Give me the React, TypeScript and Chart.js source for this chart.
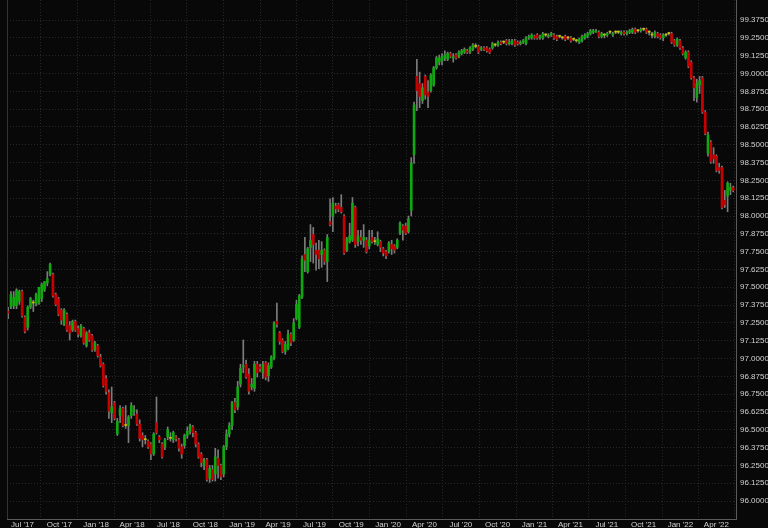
import React, { useEffect, useRef } from "react";
import { Chart, registerables } from "chart.js";

Chart.register(...registerables);

// Weekly bars, first bar dated this Friday
const startDate = "2017-05-26";

const openP = [
  97.33, 97.36, 97.37, 97.37, 97.40, 97.47, 97.29, 97.22, 97.36, 97.39,
  97.38, 97.39, 97.42, 97.48, 97.53, 97.59, 97.59, 97.45, 97.42, 97.34,
  97.24, 97.31, 97.23, 97.20, 97.26, 97.21, 97.16, 97.21, 97.09, 97.18,
  97.16, 97.06, 97.09, 97.01, 96.96, 96.86, 96.76, 96.62, 96.69, 96.47,
  96.60, 96.65, 96.53, 96.53, 96.60, 96.63, 96.61, 96.54, 96.46, 96.43,
  96.42, 96.40, 96.33, 96.55, 96.45, 96.40, 96.38, 96.45, 96.44, 96.43,
  96.45, 96.43, 96.38, 96.39, 96.46, 96.49, 96.52, 96.48, 96.40, 96.33,
  96.25, 96.29, 96.16, 96.22, 96.19, 96.30, 96.25, 96.19, 96.38, 96.47,
  96.53, 96.69, 96.66, 96.82, 96.94, 96.96, 96.89, 96.80, 96.79, 96.96,
  96.94, 96.90, 96.97, 96.88, 96.94, 97.00, 97.26, 97.18, 97.13, 97.05,
  97.07, 97.17, 97.13, 97.28, 97.22, 97.43, 97.73, 97.61, 97.78, 97.87,
  97.76, 97.76, 97.73, 97.76, 97.68, 97.96, 98.00, 98.07, 98.08, 98.06,
  98.00, 97.76, 97.82, 97.83, 98.06, 97.82, 97.85, 97.83, 97.83, 97.79,
  97.85, 97.82, 97.80, 97.82, 97.77, 97.75, 97.75, 97.80, 97.79, 97.78,
  97.88, 97.93, 97.93, 97.89, 98.04, 98.43, 98.98, 98.93, 98.81, 98.98,
  98.87, 98.88, 98.92, 99.04, 99.08, 99.09, 99.11, 99.10, 99.14, 99.11,
  99.13, 99.12, 99.14, 99.15, 99.16, 99.15, 99.17, 99.19, 99.19, 99.17,
  99.18, 99.18, 99.17, 99.18, 99.20, 99.20, 99.22, 99.22, 99.23, 99.21,
  99.21, 99.23, 99.22, 99.21, 99.22, 99.21, 99.25, 99.25, 99.26, 99.27,
  99.25, 99.25, 99.27, 99.26, 99.27, 99.27, 99.26, 99.26, 99.25, 99.26,
  99.25, 99.25, 99.24, 99.23, 99.22, 99.23, 99.25, 99.26, 99.28, 99.29,
  99.29, 99.29, 99.26, 99.27, 99.27, 99.29, 99.27, 99.29, 99.29, 99.28,
  99.29, 99.28, 99.29, 99.29, 99.31, 99.30, 99.30, 99.31, 99.31, 99.29,
  99.27, 99.26, 99.28, 99.27, 99.25, 99.27, 99.28, 99.28, 99.23, 99.20,
  99.23, 99.18, 99.11, 99.15, 99.08, 98.97, 98.83, 98.92, 98.97, 98.73,
  98.44, 98.52, 98.43, 98.42, 98.34, 98.34, 98.11, 98.14, 98.18, 98.20,
];

const highP = [
  97.36, 97.47, 97.47, 97.49, 97.48, 97.48, 97.30, 97.37, 97.43, 97.41,
  97.46, 97.50, 97.53, 97.54, 97.61, 97.67, 97.60, 97.46, 97.43, 97.35,
  97.35, 97.32, 97.26, 97.27, 97.27, 97.23, 97.24, 97.22, 97.19, 97.20,
  97.17, 97.12, 97.10, 97.03, 96.97, 96.88, 96.78, 96.80, 96.70, 96.58,
  96.67, 96.66, 96.67, 96.60, 96.69, 96.67, 96.64, 96.57, 96.48, 96.46,
  96.43, 96.41, 96.48, 96.73, 96.46, 96.41, 96.44, 96.52, 96.48, 96.49,
  96.46, 96.44, 96.40, 96.47, 96.52, 96.54, 96.53, 96.49, 96.41, 96.34,
  96.30, 96.30, 96.25, 96.25, 96.37, 96.36, 96.26, 96.39, 96.50, 96.55,
  96.70, 96.72, 96.84, 96.96, 97.13, 96.99, 96.93, 96.86, 96.98, 96.98,
  96.96, 96.98, 96.98, 96.97, 97.02, 97.26, 97.39, 97.19, 97.14, 97.12,
  97.20, 97.18, 97.28, 97.41, 97.45, 97.72, 97.85, 97.78, 97.94, 97.92,
  97.81, 97.83, 97.82, 97.77, 97.87, 98.12, 98.13, 98.09, 98.09, 98.15,
  98.01, 97.85, 97.95, 98.13, 98.07, 97.90, 97.90, 97.94, 97.85, 97.90,
  97.90, 97.85, 97.89, 97.83, 97.78, 97.76, 97.82, 97.83, 97.80, 97.84,
  97.96, 97.94, 97.95, 98.00, 98.41, 98.80, 99.10, 99.01, 98.93, 98.99,
  98.95, 99.00, 99.05, 99.12, 99.13, 99.14, 99.16, 99.15, 99.15, 99.14,
  99.14, 99.16, 99.17, 99.18, 99.17, 99.19, 99.21, 99.21, 99.20, 99.19,
  99.19, 99.19, 99.18, 99.22, 99.21, 99.23, 99.23, 99.23, 99.24, 99.24,
  99.24, 99.24, 99.23, 99.23, 99.24, 99.26, 99.27, 99.28, 99.27, 99.28,
  99.27, 99.29, 99.28, 99.28, 99.29, 99.28, 99.27, 99.27, 99.26, 99.27,
  99.26, 99.26, 99.25, 99.24, 99.25, 99.27, 99.28, 99.29, 99.31, 99.31,
  99.31, 99.30, 99.29, 99.28, 99.29, 99.30, 99.29, 99.30, 99.30, 99.30,
  99.30, 99.30, 99.31, 99.32, 99.32, 99.31, 99.32, 99.32, 99.32, 99.30,
  99.29, 99.30, 99.29, 99.28, 99.28, 99.28, 99.29, 99.29, 99.24, 99.25,
  99.24, 99.19, 99.16, 99.16, 99.09, 98.98, 98.96, 98.98, 98.98, 98.74,
  98.59, 98.53, 98.48, 98.43, 98.37, 98.35, 98.18, 98.24, 98.23, 98.21,
];

const lowP = [
  97.28, 97.35, 97.35, 97.35, 97.38, 97.29, 97.18, 97.20, 97.35, 97.33,
  97.37, 97.38, 97.40, 97.47, 97.51, 97.58, 97.43, 97.37, 97.30, 97.24,
  97.23, 97.19, 97.13, 97.19, 97.19, 97.15, 97.15, 97.10, 97.08, 97.12,
  97.05, 97.05, 97.01, 96.94, 96.80, 96.75, 96.58, 96.55, 96.57, 96.46,
  96.55, 96.52, 96.51, 96.41, 96.58, 96.60, 96.53, 96.42, 96.38, 96.40,
  96.37, 96.29, 96.32, 96.47, 96.41, 96.30, 96.36, 96.43, 96.42, 96.41,
  96.42, 96.35, 96.30, 96.37, 96.44, 96.47, 96.45, 96.38, 96.30, 96.24,
  96.22, 96.14, 96.13, 96.14, 96.14, 96.16, 96.15, 96.17, 96.36, 96.45,
  96.50, 96.62, 96.64, 96.80, 96.90, 96.86, 96.75, 96.78, 96.77, 96.87,
  96.91, 96.86, 96.85, 96.84, 96.93, 96.99, 97.22, 97.10, 97.04, 97.03,
  97.06, 97.09, 97.12, 97.27, 97.21, 97.42, 97.61, 97.60, 97.68, 97.67,
  97.62, 97.63, 97.64, 97.66, 97.54, 97.93, 97.89, 98.02, 98.03, 98.02,
  97.73, 97.75, 97.81, 97.82, 97.78, 97.79, 97.80, 97.78, 97.74, 97.77,
  97.81, 97.80, 97.79, 97.75, 97.72, 97.70, 97.74, 97.73, 97.74, 97.77,
  97.87, 97.83, 97.87, 97.88, 98.00, 98.37, 98.74, 98.76, 98.79, 98.82,
  98.76, 98.87, 98.91, 99.03, 99.06, 99.06, 99.09, 99.09, 99.11, 99.08,
  99.10, 99.11, 99.13, 99.14, 99.14, 99.14, 99.16, 99.18, 99.14, 99.16,
  99.16, 99.15, 99.14, 99.17, 99.19, 99.19, 99.20, 99.21, 99.20, 99.20,
  99.20, 99.19, 99.20, 99.20, 99.21, 99.20, 99.24, 99.24, 99.24, 99.24,
  99.24, 99.24, 99.26, 99.25, 99.26, 99.24, 99.23, 99.25, 99.24, 99.23,
  99.24, 99.22, 99.23, 99.22, 99.21, 99.22, 99.24, 99.25, 99.27, 99.28,
  99.29, 99.25, 99.25, 99.25, 99.26, 99.28, 99.26, 99.28, 99.28, 99.27,
  99.27, 99.27, 99.28, 99.28, 99.28, 99.29, 99.29, 99.30, 99.28, 99.27,
  99.25, 99.25, 99.25, 99.24, 99.23, 99.26, 99.27, 99.21, 99.19, 99.19,
  99.17, 99.13, 99.10, 99.04, 98.96, 98.81, 98.80, 98.86, 98.72, 98.57,
  98.42, 98.37, 98.37, 98.31, 98.30, 98.05, 98.06, 98.03, 98.15, 98.17,
];

const closeP = [
  97.32, 97.45, 97.43, 97.48, 97.47, 97.30, 97.19, 97.36, 97.42, 97.39,
  97.45, 97.50, 97.52, 97.54, 97.56, 97.66, 97.44, 97.38, 97.31, 97.27,
  97.34, 97.20, 97.18, 97.26, 97.20, 97.17, 97.23, 97.11, 97.18, 97.13,
  97.06, 97.11, 97.02, 96.95, 96.81, 96.77, 96.63, 96.66, 96.58, 96.56,
  96.65, 96.53, 96.53, 96.59, 96.67, 96.64, 96.54, 96.44, 96.43, 96.43,
  96.38, 96.33, 96.47, 96.48, 96.43, 96.31, 96.43, 96.50, 96.44, 96.48,
  96.44, 96.37, 96.33, 96.46, 96.49, 96.53, 96.48, 96.40, 96.31, 96.27,
  96.29, 96.15, 96.23, 96.15, 96.31, 96.25, 96.17, 96.38, 96.47, 96.53,
  96.69, 96.64, 96.80, 96.93, 96.95, 96.87, 96.77, 96.82, 96.96, 96.90,
  96.93, 96.96, 96.87, 96.95, 97.01, 97.25, 97.24, 97.12, 97.05, 97.10,
  97.17, 97.11, 97.25, 97.38, 97.44, 97.70, 97.69, 97.77, 97.83, 97.80,
  97.73, 97.70, 97.76, 97.68, 97.85, 97.94, 98.09, 98.05, 98.05, 98.03,
  97.74, 97.84, 97.86, 98.09, 97.80, 97.86, 97.83, 97.85, 97.75, 97.83,
  97.82, 97.82, 97.84, 97.78, 97.74, 97.72, 97.81, 97.77, 97.76, 97.83,
  97.95, 97.90, 97.88, 97.98, 98.37, 98.78, 98.88, 98.84, 98.90, 98.85,
  98.84, 98.99, 99.04, 99.11, 99.11, 99.12, 99.13, 99.14, 99.12, 99.12,
  99.11, 99.15, 99.16, 99.17, 99.15, 99.18, 99.20, 99.19, 99.15, 99.18,
  99.17, 99.16, 99.15, 99.21, 99.20, 99.22, 99.21, 99.22, 99.21, 99.22,
  99.23, 99.20, 99.21, 99.22, 99.23, 99.25, 99.26, 99.27, 99.25, 99.25,
  99.26, 99.28, 99.27, 99.27, 99.28, 99.25, 99.24, 99.26, 99.25, 99.24,
  99.25, 99.23, 99.24, 99.23, 99.24, 99.26, 99.27, 99.28, 99.30, 99.30,
  99.30, 99.26, 99.28, 99.27, 99.28, 99.29, 99.28, 99.29, 99.29, 99.29,
  99.28, 99.29, 99.30, 99.31, 99.29, 99.30, 99.31, 99.31, 99.29, 99.29,
  99.27, 99.29, 99.26, 99.25, 99.27, 99.27, 99.28, 99.22, 99.20, 99.24,
  99.18, 99.14, 99.15, 99.05, 98.97, 98.90, 98.93, 98.95, 98.73, 98.58,
  98.57, 98.38, 98.40, 98.32, 98.32, 98.06, 98.08, 98.23, 98.20, 98.18,
];

const xTickLabels = [
  "Jul '17", "Oct '17", "Jan '18", "Apr '18", "Jul '18", "Oct '18", "Jan '19",
  "Apr '19", "Jul '19", "Oct '19", "Jan '20", "Apr '20", "Jul '20", "Oct '20",
  "Jan '21", "Apr '21", "Jul '21", "Oct '21", "Jan '22", "Apr '22",
];
const xTickDates = [
  "2017-07-01", "2017-10-01", "2018-01-01", "2018-04-01", "2018-07-01", "2018-10-01", "2019-01-01",
  "2019-04-01", "2019-07-01", "2019-10-01", "2020-01-01", "2020-04-01", "2020-07-01", "2020-10-01",
  "2021-01-01", "2021-04-01", "2021-07-01", "2021-10-01", "2022-01-01", "2022-04-01",
];
const yTicks = [
  96.0, 96.125, 96.25, 96.375, 96.5, 96.625, 96.75, 96.875,
  97.0, 97.125, 97.25, 97.375, 97.5, 97.625, 97.75, 97.875,
  98.0, 98.125, 98.25, 98.375, 98.5, 98.625, 98.75, 98.875,
  99.0, 99.125, 99.25, 99.375,
];

const GREEN = "#0fa80f";
const RED = "#c80000";
const YELLOW = "#cfc800";
const WICK = "#7c7c7c";
const BG = "#080808";
const GRID = "#272727";
const TEXT = "#d2d2d2";
const FONT = "'Liberation Sans', Arial, sans-serif";

const leftEdge = {
  id: "leftEdge",
  afterDraw(chart: any) {
    const { ctx, chartArea } = chart;
    ctx.save();
    ctx.strokeStyle = "#333333";
    ctx.lineWidth = 1;
    ctx.beginPath();
    ctx.moveTo(chartArea.left + 0.5, chartArea.top);
    ctx.lineTo(chartArea.left + 0.5, chartArea.bottom);
    ctx.stroke();
    ctx.restore();
  },
};

export default function App() {
  const ref = useRef<HTMLCanvasElement>(null);

  useEffect(() => {
    document.body.style.margin = "0";
    document.body.style.background = BG;
    const weekOf = (d: string) =>
      (Date.parse(d) - Date.parse(startDate)) / (7 * 86400000);
    const xTickPos = xTickDates.map(weekOf);
    const idx = closeP.map((_, i) => i);
    const bodyColors = idx.map((i) =>
      closeP[i] > openP[i] ? GREEN : closeP[i] < openP[i] ? RED : YELLOW
    );

    const chart = new Chart(ref.current as HTMLCanvasElement, {
      type: "bar",
      data: {
        datasets: [
          {
            label: "body",
            data: idx.map((i) => ({ x: i, y: [openP[i], closeP[i]] })) as any,
            backgroundColor: bodyColors,
            borderWidth: 0,
            barThickness: 2,
            minBarLength: 1,
            grouped: false,
            order: 0,
          } as any,
          {
            label: "wick",
            data: idx.map((i) => ({ x: i, y: [lowP[i], highP[i]] })) as any,
            backgroundColor: WICK,
            borderWidth: 0,
            barThickness: 1,
            grouped: false,
            order: 1,
          } as any,
        ],
      },
      options: {
        animation: false,
        responsive: false,
        maintainAspectRatio: false,
        layout: { padding: { left: 7, top: 0, right: 0, bottom: 0 } },
        plugins: {
          legend: { display: false },
          tooltip: { enabled: false },
        },
        scales: {
          x: {
            type: "linear",
            min: -0.4,
            max: 260,
            offset: false,
            afterBuildTicks: (s: any) => {
              s.ticks = xTickPos.map((v) => ({ value: v }));
            },
            afterFit: (s: any) => {
              s.height = 9;
              s.paddingLeft = 0;
              s.paddingRight = 0;
            },
            ticks: {
              autoSkip: false,
              maxRotation: 0,
              minRotation: 0,
              padding: 1,
              color: TEXT,
              font: { size: 8, family: FONT },
              callback: (v: any) => {
                const k = xTickPos.findIndex((p) => Math.abs(p - Number(v)) < 1e-6);
                return k >= 0 ? xTickLabels[k] : "";
              },
            },
            grid: { color: GRID, drawTicks: false, lineWidth: 1 },
            border: { display: true, color: "#5a5a5a", dash: [1, 2] },
          },
          y: {
            type: "linear",
            position: "right",
            min: 95.874,
            max: 99.516,
            afterBuildTicks: (s: any) => {
              s.ticks = yTicks.map((v) => ({ value: v }));
            },
            afterFit: (s: any) => {
              s.width = 32;
              s.paddingTop = 0;
              s.paddingBottom = 0;
            },
            ticks: {
              padding: 4,
              color: TEXT,
              font: { size: 8, family: FONT },
              callback: (v: any) => Number(v).toFixed(4),
            },
            grid: { color: GRID, drawTicks: false, lineWidth: 1 },
            border: { display: true, color: "#5a5a5a", dash: [1, 2] },
          },
        },
      } as any,
      plugins: [leftEdge],
    });
    return () => chart.destroy();
  }, []);

  return (
    <div style={{ width: 768, height: 528, background: BG }}>
      <canvas ref={ref} width={768} height={528} style={{ display: "block" }} />
    </div>
  );
}
